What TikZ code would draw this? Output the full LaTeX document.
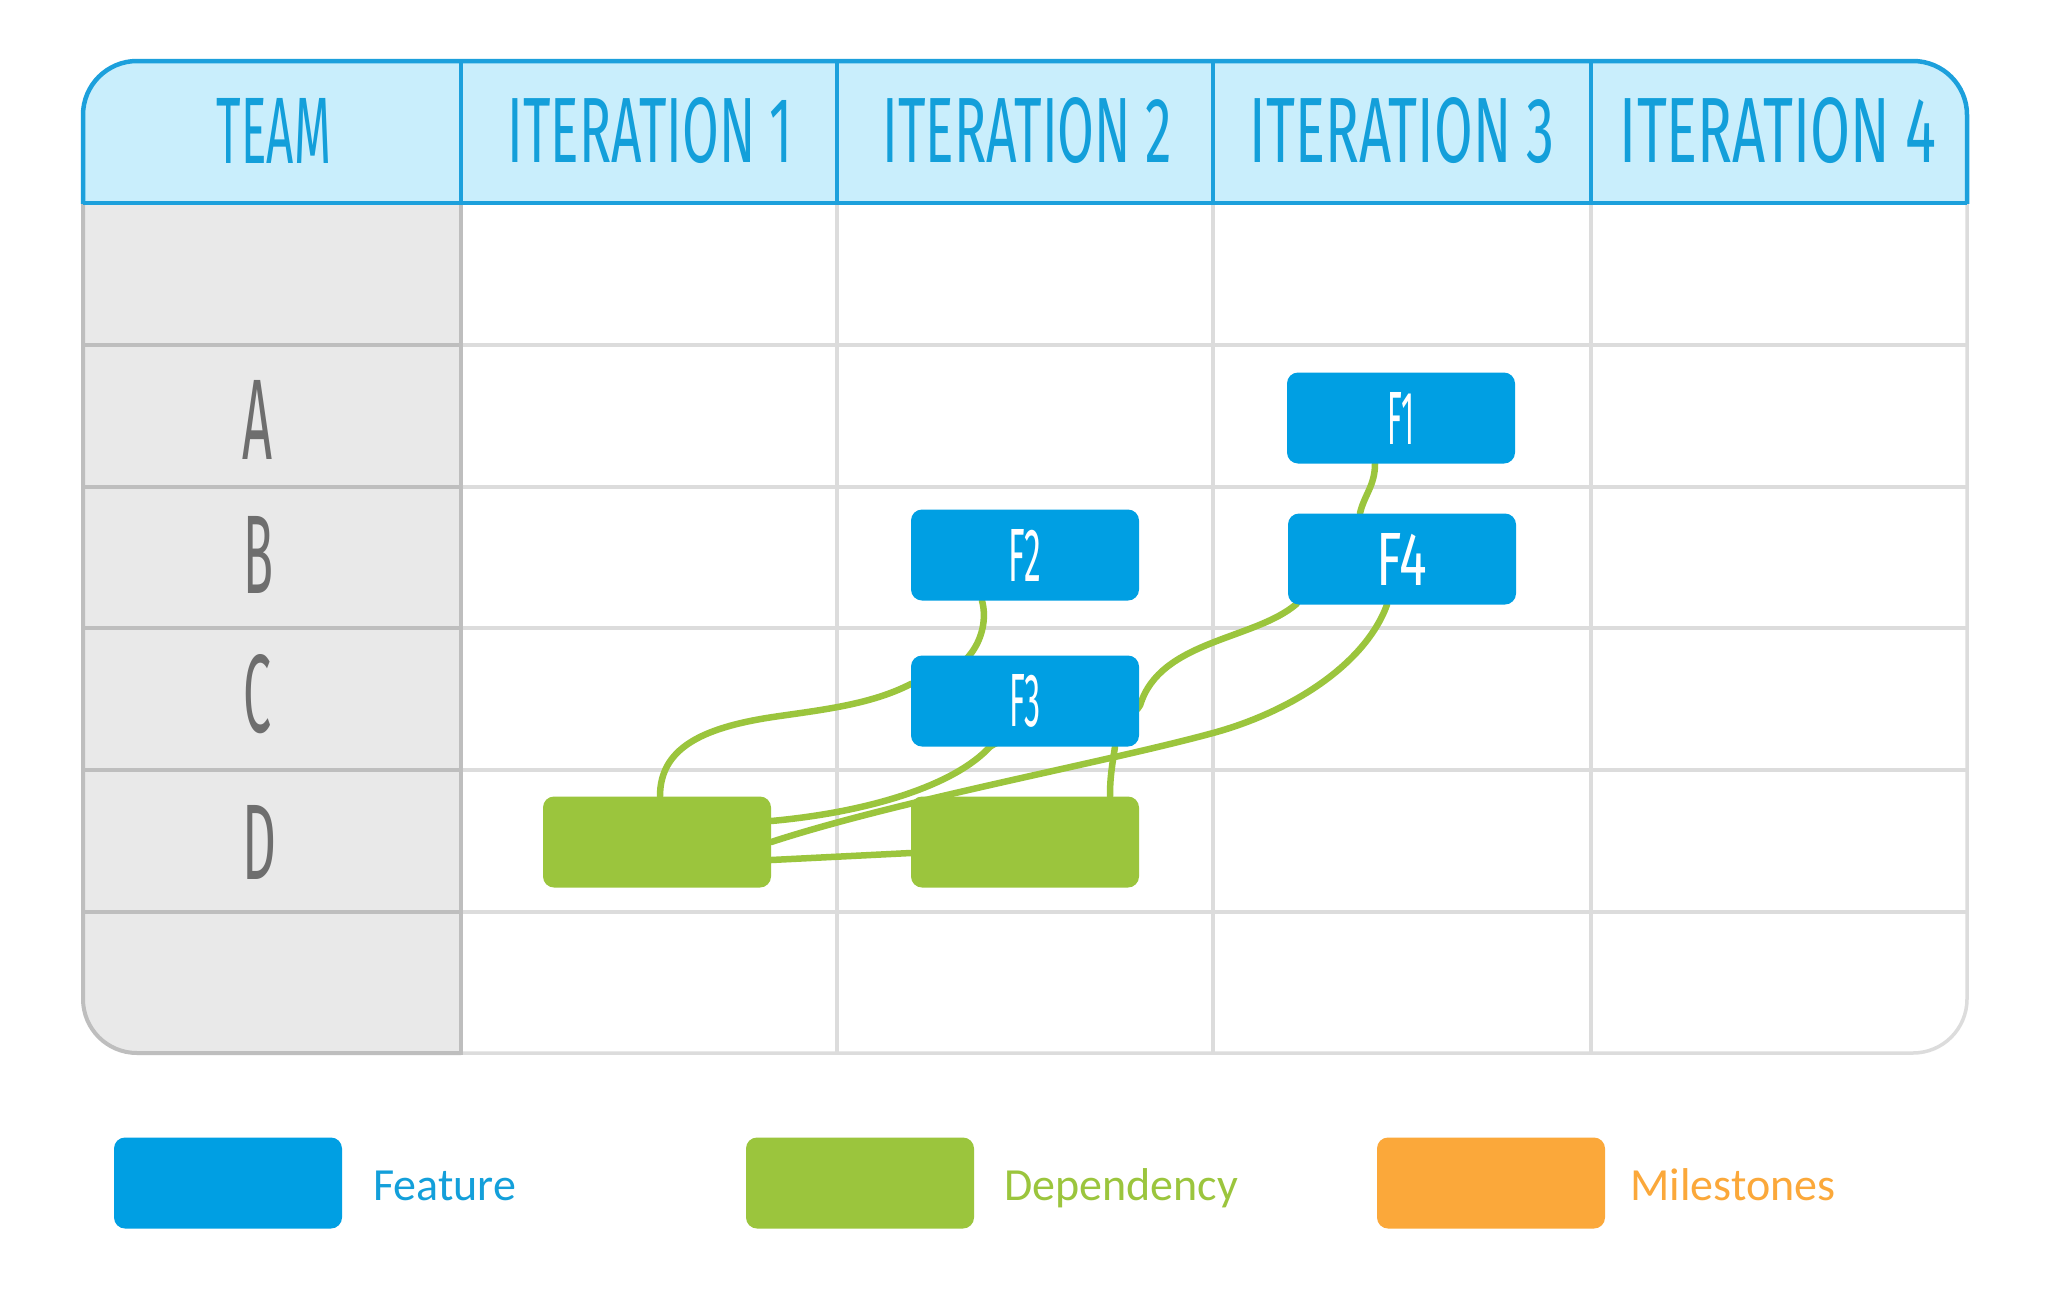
\documentclass[tikz,border=0pt]{standalone}
\usepackage{fontspec}
\setmainfont{Carlito}
\newfontfamily\handfont{Fira Sans}
\usetikzlibrary{calc}
\definecolor{featblue}{HTML}{009FE3}
\definecolor{depgreen}{HTML}{9BC53D}
\definecolor{mileorange}{HTML}{FBA83A}
\definecolor{hdrfill}{HTML}{C9EEFC}
\definecolor{hdrline}{HTML}{1CA0DC}
\definecolor{hdrtext}{HTML}{139FDA}
\definecolor{colfill}{HTML}{E9E9E9}
\definecolor{colline}{HTML}{BEBEBE}
\definecolor{gridcol}{HTML}{DCDCDC}
\definecolor{labgray}{HTML}{6E6E6E}
\newcommand\myfit[3]{\resizebox{#1pt}{#2pt}{\handfont #3}}
\begin{document}
\begin{tikzpicture}[x=1pt,y=-1pt,
  tilebox/.style={rounded corners=11pt, minimum width=228pt, minimum height=91pt, inner sep=0pt},
  feat/.style={tilebox, fill=featblue, text=white},
  dep/.style={tilebox, fill=depgreen},
  mile/.style={tilebox, fill=mileorange},
  deplink/.style={draw=depgreen, line width=6.5pt, line cap=round},
  gridln/.style={draw=gridcol, line width=3.5pt},
  cgridln/.style={draw=colline, line width=4pt},
  hdrln/.style={draw=hdrline, line width=4.5pt},
  hdr/.style={text=hdrtext, inner sep=0pt},
  rowlab/.style={text=labgray, inner sep=0pt},
  legtext/.style={anchor=base west, inner sep=0pt, font=\fontsize{46}{55}\selectfont},
]
\useasboundingbox (0,0) rectangle (2048,1301);
\fill[white] (0,0) rectangle (2048,1301);
% table fills
\begin{scope}
  \clip[rounded corners=54pt] (83,61) rectangle (1967,1053);
  \fill[hdrfill] (83,61) rectangle (1967,203);
  \fill[colfill] (83,203) rectangle (461,1053);
\end{scope}
% grid
\foreach \yy in {345,487,628,770,912} {
  \draw[gridln] (461,\yy) -- (1967,\yy);
  \draw[cgridln] (83,\yy) -- (461,\yy);
}
\foreach \xx in {837,1213,1591} \draw[gridln] (\xx,203) -- (\xx,1053);
% outline
\begin{scope}
  \clip (461,203) rectangle (2048,1301);
  \draw[gridln, rounded corners=54pt] (83,61) rectangle (1967,1053);
\end{scope}
\begin{scope}
  \clip (0,203) rectangle (461,1301);
  \draw[cgridln, rounded corners=54pt] (83,61) rectangle (1967,1053);
\end{scope}
\draw[cgridln] (461,203) -- (461,1055);
\begin{scope}
  \clip (0,0) rectangle (2048,203);
  \draw[hdrln, rounded corners=54pt] (83,61) rectangle (1967,1053);
\end{scope}
\draw[hdrln] (83,203) -- (1967,203);
\foreach \xx in {461,837,1213,1591} \draw[hdrln] (\xx,61) -- (\xx,203);
% header texts
\node[hdr] (hTeam) at (274,131) {\myfit{114}{65}{TEAM}};
\node[hdr] (hI1) at (650,131) {\myfit{285}{65}{ITERATION 1}};
\node[hdr] (hI2) at (1027,131) {\myfit{289}{65}{ITERATION 2}};
\node[hdr] (hI3) at (1402,131) {\myfit{304}{65}{ITERATION 3}};
\node[hdr] (hI4) at (1778,131) {\myfit{316}{65}{ITERATION 4}};
% row labels
\node[rowlab] (rA) at (258,420) {\myfit{30}{79}{A}};
\node[rowlab] (rB) at (259,555) {\myfit{30}{77}{B}};
\node[rowlab] (rC) at (257,694) {\myfit{28}{78}{C}};
\node[rowlab] (rD) at (260,842) {\myfit{34}{74}{D}};
% node outlines (named, used by the links)
\path (1401,418) coordinate (cF1) (1025,555) coordinate (cF2)
      (1402,559) coordinate (cF4) (1025,701) coordinate (cF3)
      (657,842) coordinate (cD1) (1025,842) coordinate (cD2);
\node[feat, fill=none] (F1) at (cF1) {};
\node[feat, fill=none] (F2) at (cF2) {};
\node[feat, fill=none] (F4) at (cF4) {};
\node[feat, fill=none] (F3) at (cF3) {};
\node[dep, fill=none] (D1) at (cD1) {};
\node[dep, fill=none] (D2) at (cD2) {};
% links
\draw[deplink] ($(F1.south)+(-26,0)$) .. controls ($(F1.south)+(-26,22)$) and ($(F4.north)+(-38,-18)$) .. ($(F4.north)+(-42,0)$);
\draw[deplink] ($(F2.south)+(-43,0)$) .. controls ($(F2.south)+(-35,29)$) and ($(F3.west)+(63,-24)$) .. ($(F3.west)+(0,-17)$)
   .. controls (870,705) and (820,710) .. (773,717)
   .. controls (700,728) and ($(D1.north)+(3,-47)$) .. ($(D1.north)+(3,0)$);
\draw[deplink] ($(F4.south west)+(9,-1)$) .. controls (1255,640) and (1160,640) .. ($(F3.east)+(1,4)$)
   .. controls (1120,740) and (1030,720) .. ($(F3.south)+(-35,0)$)
   .. controls (955,785) and (870,812) .. ($(D1.east)+(0,-21)$);
\draw[deplink] ($(F4.south)+(-15,0)$) .. controls (1365,665) and (1290,712) .. (1213,733)
   .. controls (1103,763) and (900,800) .. (D1.east);
\draw[deplink] ($(F3.south)+(90,0)$) .. controls ($(F3.south)+(87,20)$) and ($(D2.north)+(85,-20)$) .. ($(D2.north)+(85,0)$);
\draw[deplink] ($(D1.east)+(0,18)$) -- ($(D2.west)+(0,11)$);
% visible nodes
\node[feat] (F1v) at (cF1) {\myfit{27}{52}{F1}};
\node[feat] (F2v) at (cF2) {\myfit{33}{52}{F2}};
\node[feat] (F4v) at (cF4) {\myfit{51}{52}{F4}};
\node[feat] (F3v) at (cF3) {\myfit{32}{52}{F3}};
\node[dep] (D1v) at (cD1) {};
\node[dep] (D2v) at (cD2) {};
% legend
\node[feat] (LF) at (228,1183) {};
\node[legtext, text=hdrtext] (LFt) at (373,1200) {Feature};
\node[dep] (LD) at (860,1183) {};
\node[legtext, text=depgreen] (LDt) at (1004,1200) {Dependency};
\node[mile] (LM) at (1491,1183) {};
\node[legtext, text=mileorange] (LMt) at (1630,1200) {Milestones};
\end{tikzpicture}
\end{document}
